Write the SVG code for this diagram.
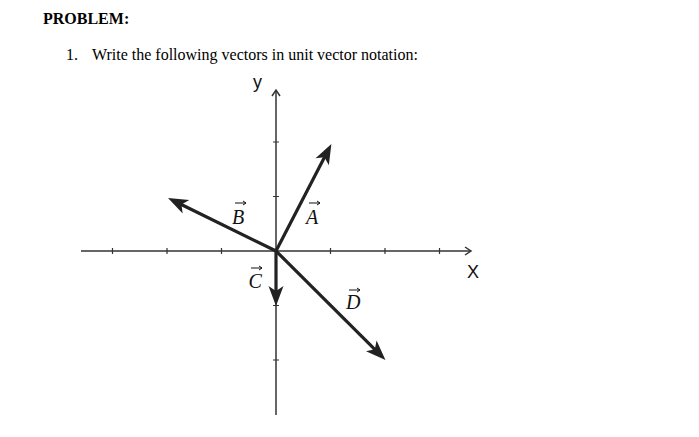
<svg xmlns="http://www.w3.org/2000/svg" width="699" height="437" viewBox="0 0 699 437">
  <style>
    .title { font-family: "Liberation Serif", "Times New Roman", serif; font-size: 16px; fill: #000; }
    .bold { font-weight: bold; }
    .axisline { stroke: #333; stroke-width: 1.5; fill: none; }
    .tick { stroke: #333; stroke-width: 1.2; }
    .axislabel { font-family: "Liberation Sans", Arial, sans-serif; font-size: 18px; fill: #111; }
    .vec { stroke: #222; stroke-width: 3.2; fill: none; }
    .vlabel { font-family: "Liberation Serif", "Times New Roman", serif; font-style: italic; font-size: 20px; fill: #111; }
    .over { stroke: #111; stroke-width: 1; fill: none; }
  </style>
  <defs>
    <marker id="head" markerUnits="userSpaceOnUse" viewBox="-15 -15 30 30" markerWidth="30" markerHeight="30" refX="0" refY="0" orient="auto" overflow="visible">
      <path d="M8,0 L-12,-7.5 L-7,0 L-12,7.5 Z" fill="#222"/>
    </marker>
  </defs>
  <rect width="699" height="437" fill="#fff"/>

  <text class="title bold" x="43" y="24">PROBLEM:</text>
  <text class="title" x="66" y="60">1.</text>
  <text class="title" x="92" y="60">Write the following vectors in unit vector notation:</text>

  <g id="axes">
    <path class="axisline" d="M81,251 H471"/>
    <path class="axisline" d="M465,247 L471,251 L465,255"/>
    <path class="axisline" d="M276,90 V415"/>
    <path class="axisline" d="M272,96 L276,90 L280,96"/>
    <g class="tick">
      <path d="M112.5,248 V254 M167,248 V254 M221.5,248 V254 M330.5,248 V254 M385,248 V254 M439.5,248 V254"/>
      <path d="M273,142 H279 M273,196.5 H279 M273,305.5 H279 M273,360 H279"/>
    </g>
    <text class="axislabel" x="253" y="88">y</text>
    <text class="axislabel" x="467" y="278">X</text>
  </g>

  <g id="connectors">
    <line id="vecA" class="vec" x1="276" y1="251" x2="327.7" y2="151.1" marker-end="url(#head)"/>
    <line id="vecB" class="vec" x1="276" y1="251" x2="175.2" y2="201.5" marker-end="url(#head)"/>
    <line id="vecC" class="vec" x1="276" y1="251" x2="276" y2="298" marker-end="url(#head)"/>
    <line id="vecD" class="vec" x1="276" y1="251" x2="379.8" y2="354.3" marker-end="url(#head)"/>
  </g>

  <g id="labelA">
    <text class="vlabel" x="306" y="224">A</text>
    <path class="over" d="M309,203 H320 M317,201 L320,203 L317,205"/>
  </g>
  <g id="labelB">
    <text class="vlabel" x="232" y="224">B</text>
    <path class="over" d="M235,203 H246 M243,201 L246,203 L243,205"/>
  </g>
  <g id="labelC">
    <text class="vlabel" x="248.5" y="288">C</text>
    <path class="over" d="M251,268 H262 M259,266 L262,268 L259,270"/>
  </g>
  <g id="labelD">
    <text class="vlabel" x="346" y="309">D</text>
    <path class="over" d="M349,290 H360 M357,288 L360,290 L357,292"/>
  </g>
</svg>
